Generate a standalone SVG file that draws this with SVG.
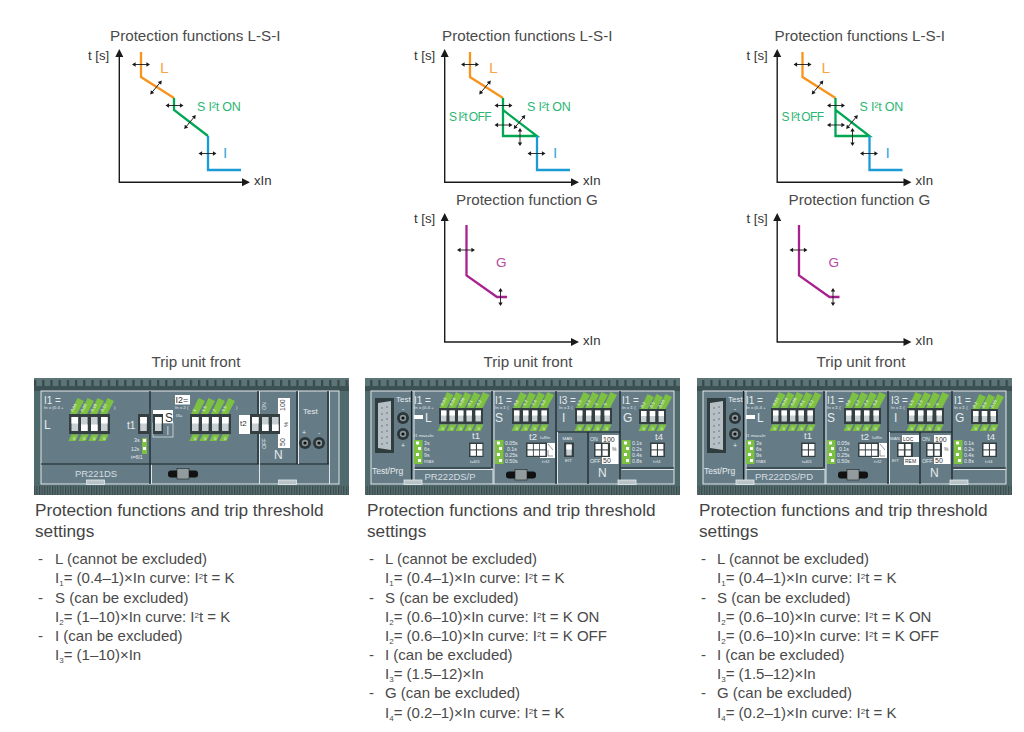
<svg xmlns="http://www.w3.org/2000/svg" xmlns:xlink="http://www.w3.org/1999/xlink" width="1024" height="732" viewBox="0 0 1024 732">
<style>
text{font-family:"Liberation Sans",Arial,sans-serif;fill:#4a4a4a}
.ti{font-size:15.2px}
.ax{font-size:13.2px;fill:#333}
.h{font-size:17.2px;fill:#444}
.b{font-size:15px}
.sub{font-size:8px}
.sup{font-size:8px}
.s{fill:none;stroke-width:2.3;stroke-linejoin:miter}
.o{stroke:#f7941d}.g{stroke:#00a651}.bl{stroke:#1b9ad6}.m{stroke:#a7228f}
.axis{fill:none;stroke:#1a1a1a;stroke-width:1.4}
.lo{fill:#f7a64a;font-size:15.5px}.lg{fill:#2bb673;font-size:12.5px;letter-spacing:-.2px}.lf{fill:#2bb673;font-size:12px;letter-spacing:-.6px;word-spacing:-1px}.lb{fill:#35a7dd;font-size:15.5px}.lm{fill:#b5479f;font-size:13.5px}
.w{fill:#e6ebee}
.p1{font-size:10px}.p2{font-size:4.4px}.p3{font-size:12px}.p4{font-size:5.2px}.p5{font-size:9.5px}
.pr{font-size:9.5px;fill:#d5dde0}
.d{fill:#343f42}
.tt{font-size:4.2px;fill:#f4f8ee}
.wl{fill:none;stroke:#dfe5e8;stroke-width:1}
.dl{fill:none;stroke:#172124;stroke-width:1.2}
</style>
<defs>
<g id="da"><path d="M-6 0H6" stroke="#1a1a1a" stroke-width=".9"/><path d="M-9 0l3.6-2.2v4.4zM9 0l-3.6-2.2v4.4z" fill="#1a1a1a"/></g>
<pattern id="teeth" width="8.2" height="13" patternUnits="userSpaceOnUse" x="34" y="378"><rect width="8.2" height="13" fill="#5d7476"/><rect x="0" y="2" width="2.2" height="8" fill="#35484a"/><rect y="8" width="8.2" height="5" fill="#3c5153"/></pattern>
<pattern id="hatch" width="2.6" height="9" patternUnits="userSpaceOnUse"><rect width="2.6" height="9" fill="#5a7072"/><rect width="1.2" height="9" fill="#37494b"/></pattern>
<polygon id="tabU" points="0,0 7,0 14,-13 7.5,-16" fill="#7cc142"/>
<polygon id="tabD" points="1.5,0 8.5,0 5.5,6.5 -1.5,6.5" fill="#7cc142"/>
<g id="c"><rect width="6.6" height="14" fill="#c9d0d3"/><rect width="6.6" height="6.5" fill="#fff"/></g>
<g id="cb"><rect width="6.6" height="14" fill="#c9d0d3"/><rect y="7.5" width="6.6" height="6.5" fill="#fff"/></g>
<g id="cs"><rect width="5.4" height="11" fill="#c9d0d3"/><rect width="5.4" height="5" fill="#fff"/></g>
<g id="cw"><rect width="5.4" height="5.4" fill="#fff"/><rect y="6.4" width="5.4" height="5.4" fill="#fff"/></g>
<g id="jack"><circle r="6" fill="#2c3638"/><circle r="3.2" fill="#8a9699"/><circle r="1.6" fill="#111"/></g>
<g id="knob"><rect x="-15" y="-3.5" width="30" height="7" rx="3" fill="#111"/><rect x="-6" y="-5.5" width="12" height="10.5" fill="#929c9f" stroke="#222" stroke-width=".6"/></g>
<g id="gb"><rect width="8.5" height="24" fill="#7cc142"/><rect x="2" y="1.5" width="3" height="3" fill="#fff"/><rect x="4" y="7" width="3" height="3" fill="#fff"/><rect x="2" y="13" width="3" height="3" fill="#fff"/><rect x="4" y="19" width="3" height="3" fill="#fff"/></g>
<rect id="tb" width="18" height="4.5" fill="#b9c4c8" stroke="#e6ebee" stroke-width=".8"/>
<g id="conn"><rect width="19" height="55" fill="#2f3d3f"/><polygon points="3,5 16,3 16,52 3,50" fill="#b6c0c4"/><g fill="#667"><circle cx="7" cy="10" r=".8"/><circle cx="12" cy="9" r=".8"/><circle cx="7" cy="16" r=".8"/><circle cx="12" cy="15" r=".8"/><circle cx="7" cy="22" r=".8"/><circle cx="12" cy="21" r=".8"/><circle cx="7" cy="28" r=".8"/><circle cx="12" cy="27" r=".8"/><circle cx="7" cy="34" r=".8"/><circle cx="12" cy="33" r=".8"/><circle cx="7" cy="40" r=".8"/><circle cx="12" cy="39" r=".8"/><circle cx="7" cy="46" r=".8"/><circle cx="12" cy="45" r=".8"/></g></g>
</defs>
<rect width="1024" height="732" fill="#fff"/>

<g id="chart-lsi-1">
<text class="ti" x="110" y="41">Protection functions L-S-I</text>
<text class="ax" x="88" y="60">t [s]</text>
<text class="ax" x="254" y="185">xIn</text>
<path class="axis" d="M119.3 56V182.3H243"/><path d="M119.3 49l-4 8h8zM250 182.3l-8-4v8z" fill="#1a1a1a"/>
<path class="s o" d="M141 52V77L174 98"/><path class="s g" d="M174 98V110L208 136"/><path class="s bl" d="M208 136V170H241"/>
<use href="#da" x="141" y="64.5"/><use href="#da" transform="translate(156 87.5) rotate(-50)"/><use href="#da" x="174.5" y="105.5"/><use href="#da" transform="translate(190 122) rotate(-50)"/><use href="#da" x="207.5" y="153.5"/>
<text class="lo" x="160" y="73">L</text><text class="lg" x="197" y="111">S I²t ON</text><text class="lb" x="223" y="158">I</text>
</g>

<g id="chart-lsi-2" transform="translate(329 0)">
<text class="ti" x="113" y="41">Protection functions L-S-I</text>
<text class="ax" x="85" y="60">t [s]</text>
<text class="ax" x="254" y="185">xIn</text>
<path class="axis" d="M115.7 56V182.3H243"/><path d="M115.7 49l-4 8h8zM250 182.3l-8-4v8z" fill="#1a1a1a"/>
<path class="s o" d="M141 52V77L174 98"/><path class="s g" d="M174 98V110L208 136H174V110"/><path class="s bl" d="M208 136V170H241"/>
<use href="#da" x="141" y="64.5"/><use href="#da" transform="translate(156 87.5) rotate(-50)"/><use href="#da" x="174.5" y="105.5"/><use href="#da" x="174.5" y="125"/><use href="#da" transform="translate(190.5 122) rotate(-50)"/><use href="#da" transform="translate(191 137) rotate(90)"/><use href="#da" x="207.5" y="153.5"/>
<text class="lo" x="160" y="73">L</text><text class="lg" x="198" y="111">S I²t ON</text><text class="lf" x="120" y="121">S I²t OFF</text><text class="lb" x="224" y="158">I</text>
</g>

<g id="chart-g-2" transform="translate(329 0)">
<text class="ti" x="127" y="205">Protection function G</text>
<text class="ax" x="85" y="223">t [s]</text>
<text class="ax" x="254" y="345">xIn</text>
<path class="axis" d="M115.7 220V342H243"/><path d="M115.7 213l-4 8h8zM250 342l-8-4v8z" fill="#1a1a1a"/>
<path class="s m" d="M137.5 225V275.5L168 297H178"/>
<use href="#da" x="137" y="250"/><use href="#da" transform="translate(171.5 297) rotate(90)"/>
<text class="lm" x="167" y="267">G</text>
</g>

<g id="chart-lsi-3" transform="translate(661.5 0)">
<text class="ti" x="113" y="41">Protection functions L-S-I</text>
<text class="ax" x="85" y="60">t [s]</text>
<text class="ax" x="254" y="185">xIn</text>
<path class="axis" d="M115.7 56V182.3H243"/><path d="M115.7 49l-4 8h8zM250 182.3l-8-4v8z" fill="#1a1a1a"/>
<path class="s o" d="M141 52V77L174 98"/><path class="s g" d="M174 98V110L208 136H174V110"/><path class="s bl" d="M208 136V170H241"/>
<use href="#da" x="141" y="64.5"/><use href="#da" transform="translate(156 87.5) rotate(-50)"/><use href="#da" x="174.5" y="105.5"/><use href="#da" x="174.5" y="125"/><use href="#da" transform="translate(190.5 122) rotate(-50)"/><use href="#da" transform="translate(191 137) rotate(90)"/><use href="#da" x="207.5" y="153.5"/>
<text class="lo" x="160" y="73">L</text><text class="lg" x="198" y="111">S I²t ON</text><text class="lf" x="120" y="121">S I²t OFF</text><text class="lb" x="224" y="158">I</text>
</g>

<g id="chart-g-3" transform="translate(661.5 0)">
<text class="ti" x="127" y="205">Protection function G</text>
<text class="ax" x="85" y="223">t [s]</text>
<text class="ax" x="254" y="345">xIn</text>
<path class="axis" d="M115.7 220V342H243"/><path d="M115.7 213l-4 8h8zM250 342l-8-4v8z" fill="#1a1a1a"/>
<path class="s m" d="M137.5 225V275.5L168 297H178"/>
<use href="#da" x="137" y="250"/><use href="#da" transform="translate(171.5 297) rotate(90)"/>
<text class="lm" x="167" y="267">G</text>
</g>

<g id="front-1">
<text class="ti" x="196" y="367" text-anchor="middle">Trip unit front</text>
<rect x="34" y="378" width="315" height="117" fill="#4e6a6c"/>
<rect x="34" y="378" width="315" height="13" fill="url(#teeth)"/><rect x="34" y="486" width="315" height="9" fill="url(#hatch)"/>
<rect x="41" y="391" width="298" height="93" fill="#657c87" stroke="#e3e8ea" stroke-width="1"/>
<path class="dl" d="M41 464H329M150 391V484M258 391V464M297 391V464M328 391V464"/>
<path class="wl" d="M151.5 464.8V484M259.5 391V484M298.5 391V464M329.5 391V484"/>
<text class="p1 w" x="44" y="404">I1 =</text><text class="p2 w" x="44" y="409">In x (0.4 +</text><text class="p2 w" x="114" y="409">)</text><text class="p3 w" x="44" y="429">L</text>
<use href="#tabU" x="70" y="414"/><use href="#tabU" x="80" y="414"/><use href="#tabU" x="90" y="414"/><use href="#tabU" x="100" y="414"/>
<g class="tt"><text class="tt" transform="translate(73 412) rotate(-62)">0.04</text><text class="tt" transform="translate(83 412) rotate(-62)">0.08</text><text class="tt" transform="translate(93 412) rotate(-62)">0.16</text><text class="tt" transform="translate(103 412) rotate(-62)">0.32</text></g>
<rect class="d" x="69" y="414" width="41" height="20"/><use href="#c" x="71.5" y="417"/><use href="#cb" x="81" y="417"/><use href="#cb" x="91" y="417"/><use href="#c" x="101" y="417"/>
<use href="#tabD" x="70" y="434.5"/><use href="#tabD" x="80" y="434.5"/><use href="#tabD" x="90" y="434.5"/><use href="#tabD" x="100" y="434.5"/>
<text class="tt" x="73" y="440">0</text><text class="tt" x="83" y="440">0</text><text class="tt" x="93" y="440">0</text><text class="tt" x="103" y="440">0</text>
<text class="p1 w" x="127" y="429">t1</text><rect class="d" x="138" y="414" width="11" height="20"/><use href="#c" x="140.2" y="417"/>
<text class="p4 w" x="134" y="442">3s</text><text class="p4 w" x="131" y="451">12s</text><text class="p4 w" x="131" y="459">t=6I1</text>
<rect x="142" y="438" width="5" height="16" fill="#7cc142"/><rect x="143" y="439" width="3" height="3" fill="#fff"/><rect x="143" y="447" width="3" height="3" fill="#fff"/>
<rect x="153" y="410" width="20" height="13" fill="#fff"/><text class="p3" x="165" y="422" style="fill:#333">S</text>
<rect x="153" y="423" width="20" height="14" fill="none" stroke="#fff" stroke-width=".6"/>
<rect class="d" x="153" y="414" width="10" height="20"/><use href="#c" x="155" y="417"/><rect x="167" y="426" width="1.6" height="9" fill="#a7b3b7"/>
<rect x="175" y="395" width="15" height="9.5" fill="#fff"/><text class="p1" x="175.500" y="403" style="fill:#333;font-size:9px">I2=</text><text class="p2 w" x="175" y="409">In x 2 (</text><text class="p2 w" x="176" y="417">I3=</text><text class="p2 w" x="236" y="409">)</text>
<use href="#tabU" x="191" y="414"/><use href="#tabU" x="201" y="414"/><use href="#tabU" x="211" y="414"/><use href="#tabU" x="221" y="414"/>
<text class="tt" transform="translate(195 412) rotate(-62)">1</text><text class="tt" transform="translate(204 412) rotate(-62)">1.5</text><text class="tt" transform="translate(215 412) rotate(-62)">2</text><text class="tt" transform="translate(224 412) rotate(-62)">5.5</text>
<rect class="d" x="190" y="414" width="41" height="20"/><use href="#c" x="192" y="417"/><use href="#c" x="202" y="417"/><use href="#c" x="212" y="417"/><use href="#c" x="222" y="417"/>
<use href="#tabD" x="191" y="434.5"/><use href="#tabD" x="201" y="434.5"/><use href="#tabD" x="211" y="434.5"/><use href="#tabD" x="221" y="434.5"/>
<text class="tt" x="194" y="440">0</text><text class="tt" x="204" y="440">0</text><text class="tt" x="214" y="440">0</text><text class="tt" x="224" y="440">0</text>
<rect x="239" y="415" width="11" height="19" fill="#fff"/><text class="p5" x="240" y="426" style="fill:#333;font-size:8px">t2</text>
<rect x="278" y="398" width="12" height="50" fill="#fff"/>
<rect class="d" x="250" y="414" width="30" height="20"/><use href="#c" x="252" y="417"/><use href="#cb" x="262" y="417"/><use href="#cb" x="272" y="417"/>
<text class="p4 w" transform="translate(266 410) rotate(-90)">ON</text><text class="p4 w" transform="translate(266 449) rotate(-90)">OFF</text>
<text transform="translate(285 411) rotate(-90)" style="font-size:7px;fill:#444">100</text><text transform="translate(288 427) rotate(-90)" style="font-size:6px;fill:#444">%</text><text transform="translate(285 446) rotate(-90)" style="font-size:7px;fill:#444">50</text>
<text class="p3 w" x="274" y="459">N</text>
<text class="w" x="303" y="414" style="font-size:8px">Test</text><text class="w" x="302" y="435" style="font-size:7px">+</text><text class="w" x="318" y="435" style="font-size:7px">-</text>
<use href="#jack" x="305" y="443"/><use href="#jack" x="319" y="443"/>
<text class="pr" x="96" y="477" text-anchor="middle">PR221DS</text>
<use href="#knob" x="183" y="474"/><use href="#tb" x="86.500" y="480"/><use href="#tb" x="278.500" y="480"/>
</g>

<g id="front-2">
<text class="ti" x="528" y="367" text-anchor="middle">Trip unit front</text>
<rect x="365" y="378" width="315" height="117" fill="#4e6a6c"/>
<rect x="365" y="378" width="315" height="13" fill="url(#teeth)"/><rect x="365" y="486" width="315" height="9" fill="url(#hatch)"/>
<rect x="371" y="391" width="303" height="93" fill="#657c87" stroke="#e3e8ea"/>
<path class="dl" d="M411.500 391V481M414 468H491M492 391V468M556 391V484M557 432H620M588 432V484M620 391V484M621 468H674"/>
<path class="wl" d="M414 391V484M414 469.500H493V484M494 391V484M621.500 469.500H674M557.500 432V484"/>
<use href="#conn" x="375" y="398"/><text class="w" x="396" y="402" style="font-size:8px">Test</text><text class="w" x="402" y="411" style="font-size:7px">-</text><use href="#jack" x="403" y="418"/><use href="#jack" x="403" y="434"/><text class="w" x="401" y="448" style="font-size:7px">+</text><text class="w" x="372" y="474" style="font-size:8.500px">Test/Prg</text>
<use href="#tb" x="404" y="480"/><use href="#tb" x="618" y="480"/>
<text class="p1 w" x="414" y="404">I1 =</text><text class="p2 w" x="414" y="409">In x (0.4 +</text><rect x="414" y="415" width="9" height="4" fill="#fff"/><text class="p3 w" x="425" y="422">L</text>
<use href="#tabU" x="439.500" y="408"/><use href="#tabU" x="448.500" y="408"/><use href="#tabU" x="457.500" y="408"/><use href="#tabU" x="466.500" y="408"/><use href="#tabU" x="475.500" y="408"/>
<text class="tt" transform="translate(443 406) rotate(-62)">0.03</text><text class="tt" transform="translate(452 406) rotate(-62)">0.04</text><text class="tt" transform="translate(461 406) rotate(-62)">0.06</text><text class="tt" transform="translate(470 406) rotate(-62)">0.1</text><text class="tt" transform="translate(479 406) rotate(-62)">0.2</text>
<rect class="d" x="439" y="408" width="44" height="16"/><use href="#cs" x="441" y="410.500"/><use href="#cs" x="449.500" y="410.500"/><use href="#cs" x="458" y="410.500"/><use href="#cs" x="466.500" y="410.500"/><use href="#cs" x="475.500" y="410.500"/>
<use href="#tabD" x="439" y="424.500"/><use href="#tabD" x="448" y="424.500"/><use href="#tabD" x="457" y="424.500"/><use href="#tabD" x="466" y="424.500"/><use href="#tabD" x="475" y="424.500"/>
<text class="tt" x="441.500" y="430">0</text><text class="tt" x="450.500" y="430">0</text><text class="tt" x="459.500" y="430">0</text><text class="tt" x="468.500" y="430">0</text><text class="tt" x="477.500" y="430">0</text>
<text class="p2 w" x="414" y="437">I1 max=In</text>
<use href="#gb" x="414" y="440"/><text class="p4 w" x="424" y="445">3s</text><text class="p4 w" x="424" y="451">6s</text><text class="p4 w" x="424" y="457">9s</text><text class="p4 w" x="424" y="463">max</text>
<text class="p5 w" x="472" y="439">t1</text><rect class="d" x="469" y="442.500" width="14.500" height="14.500"/><use href="#cw" x="470.500" y="444"/><use href="#cw" x="477" y="444"/>
<text class="p2 w" x="470" y="463">t=6I1</text>
<text class="pr" x="450" y="480" text-anchor="middle">PR222DS/P</text>
<text class="p1 w" x="495" y="404">I1 =</text><text class="p2 w" x="495" y="409">In x Σ (</text><text class="p3 w" x="495" y="422">S</text>
<use href="#tabU" x="513" y="408"/><use href="#tabU" x="522" y="408"/><use href="#tabU" x="531" y="408"/><use href="#tabU" x="540" y="408"/>
<text class="tt" transform="translate(516 406) rotate(-62)">0.6</text><text class="tt" transform="translate(525 406) rotate(-62)">1.2</text><text class="tt" transform="translate(534 406) rotate(-62)">2.4</text><text class="tt" transform="translate(543 406) rotate(-62)">5.8</text>
<rect class="d" x="512" y="408" width="37" height="16"/><use href="#cs" x="514" y="410.500"/><use href="#cs" x="523" y="410.500"/><use href="#cs" x="532" y="410.500"/><use href="#cs" x="541.500" y="410.500"/>
<use href="#tabD" x="513" y="424.500"/><use href="#tabD" x="522" y="424.500"/><use href="#tabD" x="531" y="424.500"/><use href="#tabD" x="540" y="424.500"/>
<text class="tt" x="515.500" y="430">0</text><text class="tt" x="524.500" y="430">0</text><text class="tt" x="533.500" y="430">0</text><text class="tt" x="542.500" y="430">0</text>
<use href="#gb" x="495" y="440"/><text class="p4 w" x="505" y="445">0.05s</text><text class="p4 w" x="507" y="451">0.1s</text><text class="p4 w" x="505" y="457">0.25s</text><text class="p4 w" x="505" y="463">0.50s</text>
<text class="p5 w" x="529" y="440">t2</text><text class="p2 w" x="540" y="439">I=8In</text>
<rect x="540" y="443" width="15" height="15" fill="#fff"/><path d="M548 444l5 6M548 450v6h5" fill="none" stroke="#556" stroke-width=".6"/>
<rect class="d" x="526" y="442.500" width="21" height="14.500"/><use href="#cw" x="527.500" y="444"/><use href="#cw" x="533.800" y="444"/><use href="#cw" x="540" y="444"/>
<text class="p2 w" x="542" y="463">t&gt;I2</text>
<use href="#knob" x="521" y="475"/>
<text class="p1 w" x="559" y="404">I3 =</text><text class="p2 w" x="559" y="409">In x Σ (</text><text class="p3 w" x="562" y="422">I</text>
<use href="#tabU" x="576" y="408"/><use href="#tabU" x="585" y="408"/><use href="#tabU" x="594" y="408"/><use href="#tabU" x="603" y="408"/>
<text class="tt" transform="translate(579 406) rotate(-62)">1.5</text><text class="tt" transform="translate(588 406) rotate(-62)">2.5</text><text class="tt" transform="translate(597 406) rotate(-62)">3</text><text class="tt" transform="translate(606 406) rotate(-62)">5</text>
<rect class="d" x="575" y="408" width="37" height="16"/><use href="#cs" x="577" y="410.500"/><use href="#cs" x="586" y="410.500"/><use href="#cs" x="595" y="410.500"/><use href="#cs" x="604.500" y="410.500"/>
<use href="#tabD" x="576" y="424.500"/><use href="#tabD" x="585" y="424.500"/><use href="#tabD" x="594" y="424.500"/><use href="#tabD" x="603" y="424.500"/>
<text class="tt" x="578.500" y="430">0</text><text class="tt" x="587.500" y="430">0</text><text class="tt" x="596.500" y="430">0</text><text class="tt" x="605.500" y="430">0</text>
<text class="p2 w" x="562.500" y="440">MAN</text><rect class="d" x="564" y="442.500" width="10" height="14.500"/><use href="#cs" x="566.300" y="444.500"/><text class="p2 w" x="565" y="462">EIT</text>
<rect x="602" y="435" width="16.500" height="29" fill="#fff"/><text class="p4 w" x="590" y="441">ON</text><text x="603" y="441.500" style="font-size:7px;fill:#333">100</text><text x="612" y="451" style="font-size:5px;fill:#555">%</text><text x="603" y="463" style="font-size:7px;fill:#333">50</text><text class="p4 w" x="590" y="463">OFF</text>
<rect class="d" x="594" y="442.500" width="16" height="14.500"/><use href="#cw" x="595.500" y="444"/><use href="#cw" x="602.500" y="444"/>
<text class="p3 w" x="598" y="477">N</text>
<text class="p1 w" x="622" y="404">I1 =</text><text class="p2 w" x="622" y="409">In x Σ (</text><text class="p3 w" x="623" y="422">G</text>
<use href="#tabU" x="640" y="410"/><use href="#tabU" x="649" y="410"/><use href="#tabU" x="658" y="410"/>
<text class="tt" transform="translate(643 408) rotate(-62)">0.2</text><text class="tt" transform="translate(652 408) rotate(-62)">0.5</text><text class="tt" transform="translate(661 408) rotate(-62)">0.55</text>
<rect class="d" x="639" y="409" width="27" height="15"/><use href="#cs" x="641" y="411"/><use href="#cs" x="649.800" y="411"/><use href="#cs" x="658.600" y="411"/>
<use href="#tabD" x="640" y="424.500"/><use href="#tabD" x="649" y="424.500"/><use href="#tabD" x="658" y="424.500"/>
<text class="tt" x="642.500" y="430">0</text><text class="tt" x="651.500" y="430">0</text><text class="tt" x="660.500" y="430">0</text>
<use href="#gb" x="622" y="440"/><text class="p4 w" x="632" y="445">0.1s</text><text class="p4 w" x="632" y="451">0.2s</text><text class="p4 w" x="632" y="457">0.4s</text><text class="p4 w" x="632" y="463">0.8s</text>
<text class="p5 w" x="655" y="440">t4</text><rect class="d" x="650" y="442.500" width="15" height="14.500"/><use href="#cw" x="651.500" y="444"/><use href="#cw" x="658" y="444"/>
<text class="p2 w" x="653" y="463">t&gt;I4</text>
</g>

<g id="front-3">
<text class="ti" x="861" y="367" text-anchor="middle">Trip unit front</text>
<g transform="translate(332 0)">
<rect x="365" y="378" width="315" height="117" fill="#4e6a6c"/>
<rect x="365" y="378" width="315" height="13" fill="url(#teeth)"/><rect x="365" y="486" width="315" height="9" fill="url(#hatch)"/>
<rect x="371" y="391" width="303" height="93" fill="#657c87" stroke="#e3e8ea"/>
<path class="dl" d="M411.500 391V481M414 468H491M492 391V468M556 391V484M557 432H620M588 432V484M620 391V484M621 468H674"/>
<path class="wl" d="M414 391V484M414 469.500H493V484M494 391V484M621.500 469.500H674M557.500 432V484"/>
<use href="#conn" x="375" y="398"/><text class="w" x="396" y="402" style="font-size:8px">Test</text><text class="w" x="402" y="411" style="font-size:7px">-</text><use href="#jack" x="403" y="418"/><use href="#jack" x="403" y="434"/><text class="w" x="401" y="448" style="font-size:7px">+</text><text class="w" x="372" y="474" style="font-size:8.500px">Test/Prg</text>
<use href="#tb" x="404" y="480"/><use href="#tb" x="618" y="480"/>
<text class="p1 w" x="414" y="404">I1 =</text><text class="p2 w" x="414" y="409">In x (0.4 +</text><rect x="414" y="415" width="9" height="4" fill="#fff"/><text class="p3 w" x="425" y="422">L</text>
<use href="#tabU" x="439.500" y="408"/><use href="#tabU" x="448.500" y="408"/><use href="#tabU" x="457.500" y="408"/><use href="#tabU" x="466.500" y="408"/><use href="#tabU" x="475.500" y="408"/>
<text class="tt" transform="translate(443 406) rotate(-62)">0.03</text><text class="tt" transform="translate(452 406) rotate(-62)">0.04</text><text class="tt" transform="translate(461 406) rotate(-62)">0.06</text><text class="tt" transform="translate(470 406) rotate(-62)">0.1</text><text class="tt" transform="translate(479 406) rotate(-62)">0.2</text>
<rect class="d" x="439" y="408" width="44" height="16"/><use href="#cs" x="441" y="410.500"/><use href="#cs" x="449.500" y="410.500"/><use href="#cs" x="458" y="410.500"/><use href="#cs" x="466.500" y="410.500"/><use href="#cs" x="475.500" y="410.500"/>
<use href="#tabD" x="439" y="424.500"/><use href="#tabD" x="448" y="424.500"/><use href="#tabD" x="457" y="424.500"/><use href="#tabD" x="466" y="424.500"/><use href="#tabD" x="475" y="424.500"/>
<text class="tt" x="441.500" y="430">0</text><text class="tt" x="450.500" y="430">0</text><text class="tt" x="459.500" y="430">0</text><text class="tt" x="468.500" y="430">0</text><text class="tt" x="477.500" y="430">0</text>
<text class="p2 w" x="414" y="437">I1 max=In</text>
<use href="#gb" x="414" y="440"/><text class="p4 w" x="424" y="445">3s</text><text class="p4 w" x="424" y="451">6s</text><text class="p4 w" x="424" y="457">9s</text><text class="p4 w" x="424" y="463">max</text>
<text class="p5 w" x="472" y="439">t1</text><rect class="d" x="469" y="442.500" width="14.500" height="14.500"/><use href="#cw" x="470.500" y="444"/><use href="#cw" x="477" y="444"/>
<text class="p2 w" x="470" y="463">t=6I1</text>
<text class="pr" x="452" y="480" text-anchor="middle">PR222DS/PD</text>
<text class="p1 w" x="495" y="404">I1 =</text><text class="p2 w" x="495" y="409">In x Σ (</text><text class="p3 w" x="495" y="422">S</text>
<use href="#tabU" x="513" y="408"/><use href="#tabU" x="522" y="408"/><use href="#tabU" x="531" y="408"/><use href="#tabU" x="540" y="408"/>
<text class="tt" transform="translate(516 406) rotate(-62)">0.6</text><text class="tt" transform="translate(525 406) rotate(-62)">1.2</text><text class="tt" transform="translate(534 406) rotate(-62)">2.4</text><text class="tt" transform="translate(543 406) rotate(-62)">5.8</text>
<rect class="d" x="512" y="408" width="37" height="16"/><use href="#cs" x="514" y="410.500"/><use href="#cs" x="523" y="410.500"/><use href="#cs" x="532" y="410.500"/><use href="#cs" x="541.500" y="410.500"/>
<use href="#tabD" x="513" y="424.500"/><use href="#tabD" x="522" y="424.500"/><use href="#tabD" x="531" y="424.500"/><use href="#tabD" x="540" y="424.500"/>
<text class="tt" x="515.500" y="430">0</text><text class="tt" x="524.500" y="430">0</text><text class="tt" x="533.500" y="430">0</text><text class="tt" x="542.500" y="430">0</text>
<use href="#gb" x="495" y="440"/><text class="p4 w" x="505" y="445">0.05s</text><text class="p4 w" x="507" y="451">0.1s</text><text class="p4 w" x="505" y="457">0.25s</text><text class="p4 w" x="505" y="463">0.50s</text>
<text class="p5 w" x="529" y="440">t2</text><text class="p2 w" x="540" y="439">I=8In</text>
<rect x="540" y="443" width="15" height="15" fill="#fff"/><path d="M548 444l5 6M548 450v6h5" fill="none" stroke="#556" stroke-width=".6"/>
<rect class="d" x="526" y="442.500" width="21" height="14.500"/><use href="#cw" x="527.500" y="444"/><use href="#cw" x="533.800" y="444"/><use href="#cw" x="540" y="444"/>
<text class="p2 w" x="542" y="463">t&gt;I2</text>
<use href="#knob" x="521" y="475"/>
<text class="p1 w" x="559" y="404">I3 =</text><text class="p2 w" x="559" y="409">In x Σ (</text><text class="p3 w" x="562" y="422">I</text>
<use href="#tabU" x="576" y="408"/><use href="#tabU" x="585" y="408"/><use href="#tabU" x="594" y="408"/><use href="#tabU" x="603" y="408"/>
<text class="tt" transform="translate(579 406) rotate(-62)">1.5</text><text class="tt" transform="translate(588 406) rotate(-62)">2.5</text><text class="tt" transform="translate(597 406) rotate(-62)">3</text><text class="tt" transform="translate(606 406) rotate(-62)">5</text>
<rect class="d" x="575" y="408" width="37" height="16"/><use href="#cs" x="577" y="410.500"/><use href="#cs" x="586" y="410.500"/><use href="#cs" x="595" y="410.500"/><use href="#cs" x="604.500" y="410.500"/>
<use href="#tabD" x="576" y="424.500"/><use href="#tabD" x="585" y="424.500"/><use href="#tabD" x="594" y="424.500"/><use href="#tabD" x="603" y="424.500"/>
<text class="tt" x="578.500" y="430">0</text><text class="tt" x="587.500" y="430">0</text><text class="tt" x="596.500" y="430">0</text><text class="tt" x="605.500" y="430">0</text>
<text class="p2 w" x="558" y="440">MAN</text><rect x="570" y="435" width="17" height="7" fill="#fff"/><text x="571" y="440.500" style="font-size:5px;fill:#333">LOC</text>
<rect x="572" y="457" width="15" height="8" fill="#fff"/><text x="573" y="463" style="font-size:5px;fill:#333">REM</text><text class="p2 w" x="560" y="462">EIT</text>
<rect class="d" x="565" y="442.500" width="16" height="14.500"/><use href="#cw" x="566.500" y="444"/><use href="#cw" x="573.500" y="444"/>
<rect x="602" y="435" width="16.500" height="29" fill="#fff"/><text class="p4 w" x="590" y="441">ON</text><text x="603" y="441.500" style="font-size:7px;fill:#333">100</text><text x="612" y="451" style="font-size:5px;fill:#555">%</text><text x="603" y="463" style="font-size:7px;fill:#333">50</text><text class="p4 w" x="590" y="463">OFF</text>
<rect class="d" x="594" y="442.500" width="16" height="14.500"/><use href="#cw" x="595.500" y="444"/><use href="#cw" x="602.500" y="444"/>
<text class="p3 w" x="598" y="477">N</text>
<text class="p1 w" x="622" y="404">I1 =</text><text class="p2 w" x="622" y="409">In x Σ (</text><text class="p3 w" x="623" y="422">G</text>
<use href="#tabU" x="640" y="410"/><use href="#tabU" x="649" y="410"/><use href="#tabU" x="658" y="410"/>
<text class="tt" transform="translate(643 408) rotate(-62)">0.2</text><text class="tt" transform="translate(652 408) rotate(-62)">0.5</text><text class="tt" transform="translate(661 408) rotate(-62)">0.55</text>
<rect class="d" x="639" y="409" width="27" height="15"/><use href="#cs" x="641" y="411"/><use href="#cs" x="649.800" y="411"/><use href="#cs" x="658.600" y="411"/>
<use href="#tabD" x="640" y="424.500"/><use href="#tabD" x="649" y="424.500"/><use href="#tabD" x="658" y="424.500"/>
<text class="tt" x="642.500" y="430">0</text><text class="tt" x="651.500" y="430">0</text><text class="tt" x="660.500" y="430">0</text>
<use href="#gb" x="622" y="440"/><text class="p4 w" x="632" y="445">0.1s</text><text class="p4 w" x="632" y="451">0.2s</text><text class="p4 w" x="632" y="457">0.4s</text><text class="p4 w" x="632" y="463">0.8s</text>
<text class="p5 w" x="655" y="440">t4</text><rect class="d" x="650" y="442.500" width="15" height="14.500"/><use href="#cw" x="651.500" y="444"/><use href="#cw" x="658" y="444"/>
<text class="p2 w" x="653" y="463">t&gt;I4</text>
</g>
</g>

<g id="settings-1">
<text class="h" x="35" y="516">Protection functions and trip threshold</text><text class="h" x="35" y="537">settings</text>
<text class="b" x="38" y="564">-</text><text class="b" x="55" y="564">L (cannot be excluded)</text>
<text class="b" x="55" y="583">I<tspan class="sub" dy="3">1</tspan><tspan dy="-3">= (0.4–1)×In curve: I</tspan><tspan class="sup" dy="-4">2</tspan><tspan dy="4">t = K</tspan></text>
<text class="b" x="38" y="603">-</text><text class="b" x="55" y="603">S (can be excluded)</text>
<text class="b" x="55" y="622">I<tspan class="sub" dy="3">2</tspan><tspan dy="-3">= (1–10)×In curve: I</tspan><tspan class="sup" dy="-4">2</tspan><tspan dy="4">t = K</tspan></text>
<text class="b" x="38" y="641">-</text><text class="b" x="55" y="641">I (can be excluded)</text>
<text class="b" x="55" y="660">I<tspan class="sub" dy="3">3</tspan><tspan dy="-3">= (1–10)×In</tspan></text>
</g>

<g id="settings-2">
<text class="h" x="367" y="516">Protection functions and trip threshold</text><text class="h" x="367" y="537">settings</text>
<text class="b" x="369" y="564">-</text><text class="b" x="385" y="564">L (cannot be excluded)</text>
<text class="b" x="385" y="583">I<tspan class="sub" dy="3">1</tspan><tspan dy="-3">= (0.4–1)×In curve: I</tspan><tspan class="sup" dy="-4">2</tspan><tspan dy="4">t = K</tspan></text>
<text class="b" x="369" y="603">-</text><text class="b" x="385" y="603">S (can be excluded)</text>
<text class="b" x="385" y="622">I<tspan class="sub" dy="3">2</tspan><tspan dy="-3">= (0.6–10)×In curve: I</tspan><tspan class="sup" dy="-4">2</tspan><tspan dy="4">t = K ON</tspan></text>
<text class="b" x="385" y="641">I<tspan class="sub" dy="3">2</tspan><tspan dy="-3">= (0.6–10)×In curve: I</tspan><tspan class="sup" dy="-4">2</tspan><tspan dy="4">t = K OFF</tspan></text>
<text class="b" x="369" y="660">-</text><text class="b" x="385" y="660">I (can be excluded)</text>
<text class="b" x="385" y="679">I<tspan class="sub" dy="3">3</tspan><tspan dy="-3">= (1.5–12)×In</tspan></text>
<text class="b" x="369" y="698">-</text><text class="b" x="385" y="698">G (can be excluded)</text>
<text class="b" x="385" y="718">I<tspan class="sub" dy="3">4</tspan><tspan dy="-3">= (0.2–1)×In curve: I</tspan><tspan class="sup" dy="-4">2</tspan><tspan dy="4">t = K</tspan></text>
</g>

<g id="settings-3">
<text class="h" x="699" y="516">Protection functions and trip threshold</text><text class="h" x="699" y="537">settings</text>
<text class="b" x="701" y="564">-</text><text class="b" x="717" y="564">L (cannot be excluded)</text>
<text class="b" x="717" y="583">I<tspan class="sub" dy="3">1</tspan><tspan dy="-3">= (0.4–1)×In curve: I</tspan><tspan class="sup" dy="-4">2</tspan><tspan dy="4">t = K</tspan></text>
<text class="b" x="701" y="603">-</text><text class="b" x="717" y="603">S (can be excluded)</text>
<text class="b" x="717" y="622">I<tspan class="sub" dy="3">2</tspan><tspan dy="-3">= (0.6–10)×In curve: I</tspan><tspan class="sup" dy="-4">2</tspan><tspan dy="4">t = K ON</tspan></text>
<text class="b" x="717" y="641">I<tspan class="sub" dy="3">2</tspan><tspan dy="-3">= (0.6–10)×In curve: I</tspan><tspan class="sup" dy="-4">2</tspan><tspan dy="4">t = K OFF</tspan></text>
<text class="b" x="701" y="660">-</text><text class="b" x="717" y="660">I (can be excluded)</text>
<text class="b" x="717" y="679">I<tspan class="sub" dy="3">3</tspan><tspan dy="-3">= (1.5–12)×In</tspan></text>
<text class="b" x="701" y="698">-</text><text class="b" x="717" y="698">G (can be excluded)</text>
<text class="b" x="717" y="718">I<tspan class="sub" dy="3">4</tspan><tspan dy="-3">= (0.2–1)×In curve: I</tspan><tspan class="sup" dy="-4">2</tspan><tspan dy="4">t = K</tspan></text>
</g>
</svg>
